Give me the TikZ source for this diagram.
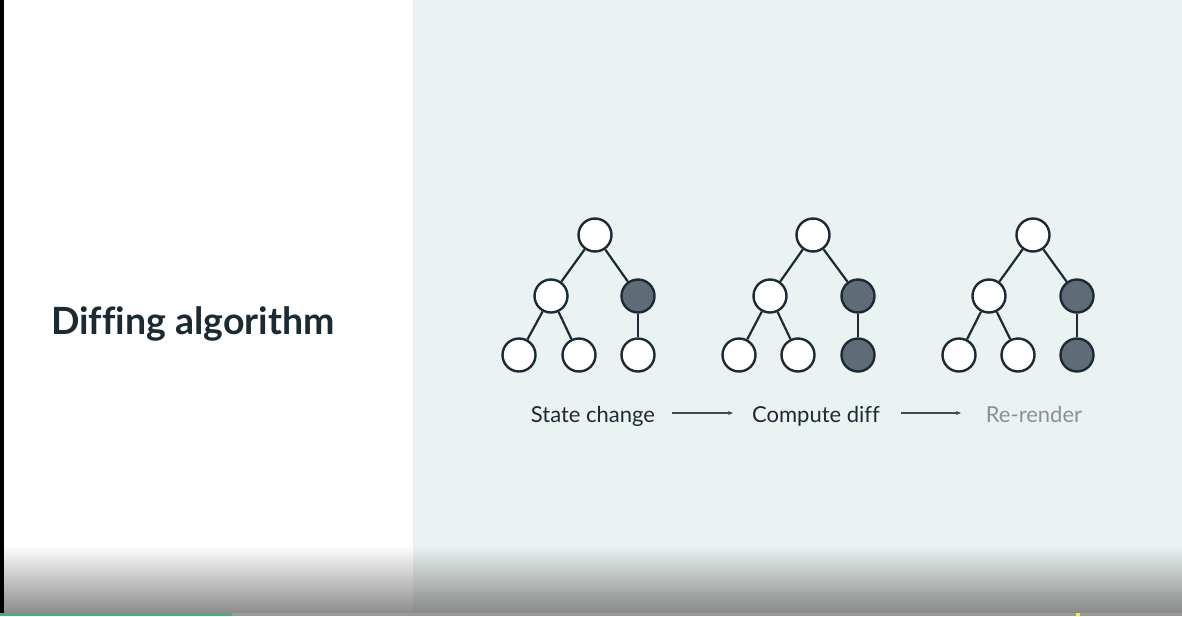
\documentclass[tikz,border=0pt]{standalone}
\usepackage{fontspec}
\setmainfont{Lato}[Ligatures=NoCommon]
\usetikzlibrary{arrows.meta}
\definecolor{inkdark}{HTML}{1C2B33}
\definecolor{nodefill}{HTML}{5F6B76}
\definecolor{panelbg}{HTML}{EBF3F2}
\definecolor{labelgray}{HTML}{8A9094}
\definecolor{bargreen}{HTML}{3DB56E}
\tikzset{
  treenode/.style={circle, draw=inkdark, line width=2.4pt, fill=white, minimum size=33pt, inner sep=0pt},
  changed/.style={treenode, fill=nodefill},
  treeedge/.style={draw=inkdark, line width=2.2pt},
  steplabel/.style={anchor=base, font=\fontsize{22}{26}\selectfont, text=inkdark},
  steparrow/.style={draw=inkdark!85, line width=1.4pt, -{Stealth[length=5pt,width=4pt]}}
}
\begin{document}
\begin{tikzpicture}[x=1pt, y=-1pt]
    % background and panel
    \useasboundingbox (0,0) rectangle (1182,616);
    \fill [white] (0,0) rectangle (1182,616);
    \fill [panelbg] (413,0) rectangle (1182,616);
    \shade [top color=white, bottom color=black!45] (0,545) rectangle (413,613);
    \shade [top color=panelbg, bottom color=black!47] (413,545) rectangle (1182,613);
    \fill [black] (0,0) rectangle (4,613);
    \fill [black!40] (0,613) rectangle (1182,616);
    \fill [bargreen] (0,613) rectangle (232,616);
    \fill [yellow] (1076,613) rectangle (1080,616);
    % title
    \node (title) [anchor=base west, inner sep=0pt, text=inkdark, font=\bfseries\fontsize{37.5}{42}\selectfont] at (51,334) {Diffing algorithm};
    % tree 1: state change
    \node (a) [treenode] at (595,235) {};
    \node (a1) [treenode] at (551,296) {};
    \node (a2) [changed] at (638,296) {};
    \node (a11) [treenode] at (519,355) {};
    \node (a12) [treenode] at (579,355) {};
    \node (a21) [treenode] at (638,355) {};
    \draw [treeedge] (a) -- (a1);
    \draw [treeedge] (a) -- (a2);
    \draw [treeedge] (a1) -- (a11);
    \draw [treeedge] (a1) -- (a12);
    \draw [treeedge] (a2) -- (a21);
    % tree 2: compute diff
    \node (b) [treenode] at (813,235) {};
    \node (b1) [treenode] at (770,296) {};
    \node (b2) [changed] at (858,296) {};
    \node (b11) [treenode] at (739,355) {};
    \node (b12) [treenode] at (798,355) {};
    \node (b21) [changed] at (858,355) {};
    \draw [treeedge] (b) -- (b1);
    \draw [treeedge] (b) -- (b2);
    \draw [treeedge] (b1) -- (b11);
    \draw [treeedge] (b1) -- (b12);
    \draw [treeedge] (b2) -- (b21);
    % tree 3: re-render
    \node (c) [treenode] at (1033,235) {};
    \node (c1) [treenode] at (989,296) {};
    \node (c2) [changed] at (1077,296) {};
    \node (c11) [treenode] at (959,355) {};
    \node (c12) [treenode] at (1018,355) {};
    \node (c21) [changed] at (1077,355) {};
    \draw [treeedge] (c) -- (c1);
    \draw [treeedge] (c) -- (c2);
    \draw [treeedge] (c1) -- (c11);
    \draw [treeedge] (c1) -- (c12);
    \draw [treeedge] (c2) -- (c21);
    % step labels
    \node (s1) [steplabel] at (593,422) {State change};
    \node (s2) [steplabel] at (816,422) {Compute diff};
    \node (s3) [steplabel, text=labelgray] at (1034,422) {Re-render};
    \coordinate (p1) at (672,413);
    \coordinate (q1) at (733,413);
    \coordinate (p2) at (901,413);
    \coordinate (q2) at (961,413);
    \draw [steparrow] (p1) -- (q1);
    \draw [steparrow] (p2) -- (q2);
\end{tikzpicture}
\end{document}
